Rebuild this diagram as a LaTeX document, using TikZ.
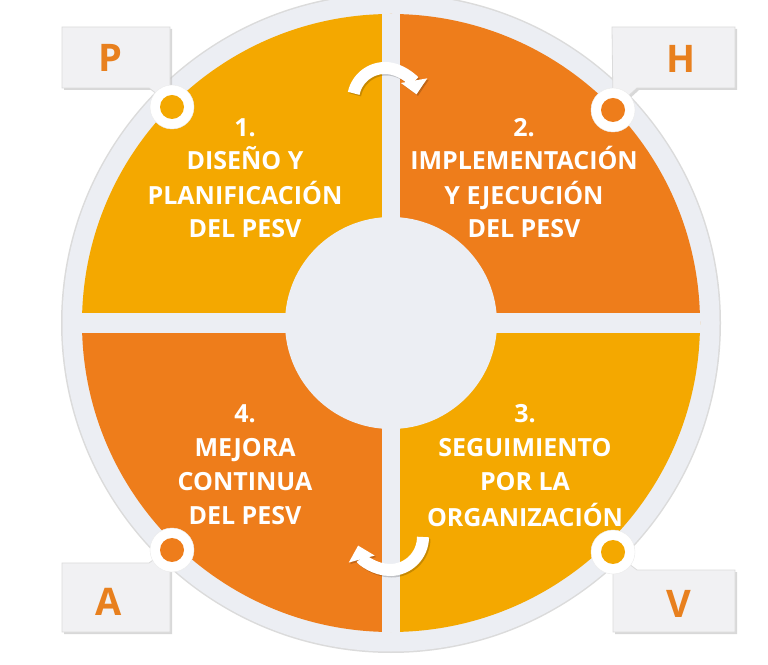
\documentclass[tikz,border=0pt]{standalone}
\usepackage{fontspec}
\setmainfont{Open Sans}
\usetikzlibrary{arrows.meta}
\definecolor{yel}{HTML}{F4A800}
\definecolor{org}{HTML}{EE7D1B}
\definecolor{ringgray}{HTML}{ECEEF3}
\definecolor{tabfill}{HTML}{F1F1F3}
\definecolor{letter}{HTML}{E8801E}
\begin{document}
\begin{tikzpicture}[x=1pt,y=1pt,
  qtext/.style={text=white,font=\fontsize{25}{25}\selectfont\bfseries,anchor=base,inner sep=0pt},
  tabletter/.style={text=letter,font=\fontsize{38}{38}\selectfont\bfseries,anchor=base,inner sep=0pt},
  tabbox/.style={fill=tabfill,draw=black!14,line width=0.8pt},
  tabshadow/.style={fill=black!25,opacity=0.6},
  ringmark/.style={circle,fill=white,minimum size=44pt,inner sep=0pt,draw=black!8},
  cyc/.style={white,line width=12pt,-{Triangle[width=26pt,length=14pt]}},
  cycshadow/.style={black,opacity=0.18,line width=12pt,-{Triangle[width=26pt,length=14pt]}}
]
\fill[white] (0,0) rectangle (768,664);
\useasboundingbox (0,0) rectangle (768,664);
\coordinate (C) at (391,341);
% outer gray ring
\fill[black!14] (C) circle (330);
\fill[ringgray] (C) circle (328.5);
% quadrants
\begin{scope}
  \clip (C) circle (309);
  \fill[yel] (0,341) rectangle (391,664);
  \fill[org] (391,341) rectangle (768,664);
  \fill[org] (0,0) rectangle (391,341);
  \fill[yel] (391,0) rectangle (768,341);
  \fill[ringgray] (382,0) rectangle (400,664);
  \fill[ringgray] (0,331) rectangle (768,351);
\end{scope}
\fill[ringgray] (C) circle (106);
% tabs
\fill[tabshadow] (64,635) -- (172,635) -- (172,558) -- (152,574) -- (64,574) -- cycle;
\draw[tabbox] (62,637) -- (170,637) -- (170,560) -- (149,576) -- (62,576) -- cycle;
\fill[tabshadow] (614,635) -- (737,635) -- (737,574) -- (639,574) -- (615,552) -- cycle;
\draw[tabbox] (612,637) -- (735,637) -- (735,576) -- (637,576) -- (613,554) -- cycle;
\fill[tabshadow] (64,99) -- (152,99) -- (172,113) -- (172,30) -- (64,30) -- cycle;
\draw[tabbox] (62,101) -- (149,101) -- (170,116) -- (170,32) -- (62,32) -- cycle;
\fill[tabshadow] (615,110) -- (639,92) -- (737,92) -- (737,30) -- (615,30) -- cycle;
\draw[tabbox] (613,112) -- (637,94) -- (735,94) -- (735,32) -- (613,32) -- cycle;
% ring markers
\node[ringmark] (rP) at (172,557) {};
\fill[yel] (rP.center) circle (12);
\node[ringmark] (rH) at (613,554) {};
\fill[org] (rH.center) circle (12);
\node[ringmark] (rA) at (172,114) {};
\fill[org] (rA.center) circle (12);
\node[ringmark] (rV) at (613,112) {};
\fill[yel] (rV.center) circle (12);
% tab letters
\node[tabletter] (lP) at (110,592) {P};
\node[tabletter] (lH) at (681,591) {H};
\node[tabletter] (lA) at (109,49) {A};
\node[tabletter] (lV) at (679,47) {V};
% quadrant texts
\node[qtext] (t1a) at (245,527) {1.};
\node[qtext] (t1b) at (245,494) {DISEÑO Y};
\node[qtext] (t1c) at (245,459) {PLANIFICACIÓN};
\node[qtext] (t1d) at (245,426) {DEL PESV};
\node[qtext] (t2a) at (524,527) {2.};
\node[qtext] (t2b) at (524,494) {IMPLEMENTACIÓN};
\node[qtext] (t2c) at (524,459) {Y EJECUCIÓN};
\node[qtext] (t2d) at (524,426) {DEL PESV};
\node[qtext] (t3a) at (525,241) {3.};
\node[qtext] (t3b) at (525,207) {SEGUIMIENTO};
\node[qtext] (t3c) at (525,173) {POR LA};
\node[qtext] (t3d) at (525,137) {ORGANIZACIÓN};
\node[qtext] (t4a) at (245,241) {4.};
\node[qtext] (t4b) at (245,207) {MEJORA};
\node[qtext] (t4c) at (245,173) {CONTINUA};
\node[qtext] (t4d) at (245,139) {DEL PESV};
% cycle arrows
\coordinate (aT) at (385,564);
\coordinate (aTs) at (386.5,562.5);
\draw[cycshadow] (aTs) ++(168:32) arc[start angle=168,end angle=10,radius=32];
\draw[cyc] (aT) ++(168:32) arc[start angle=168,end angle=10,radius=32];
\coordinate (aB) at (390,127);
\coordinate (aBs) at (391.5,125.5);
\draw[cycshadow] (aBs) ++(0:33) arc[start angle=0,end angle=-165,radius=33];
\draw[cyc] (aB) ++(0:33) arc[start angle=0,end angle=-165,radius=33];
\end{tikzpicture}
\end{document}
